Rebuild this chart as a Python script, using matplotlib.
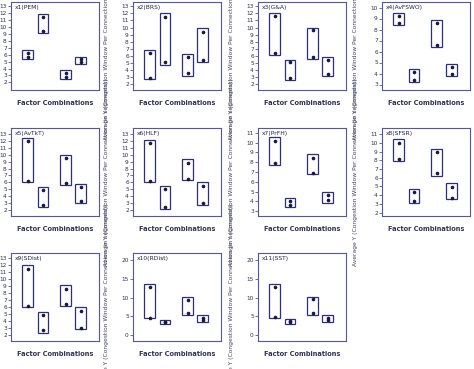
import matplotlib
matplotlib.use("Agg")
import matplotlib.pyplot as plt
from matplotlib.patches import Rectangle

# panel names
paneles = ["x1(PEM)", "x2(BRS)", "x3(G&A)", "x4(AvFSWO)",
           "x5(AvTkT)", "x6(HLF)", "x7(PrFH)", "x8(SFSR)",
           "x9(SDist)", "x10(RDist)", "x11(SST)"]

# box ranges, 4 factor combinations per panel
caja_baja = [[5.4, 9.1, 2.5, 4.6], [2.7, 4.7, 3.2, 5.1], [6.1, 2.6, 5.6, 3.2],
             [8.4, 3.2, 6.4, 3.8], [6.0, 2.5, 5.6, 3.1], [6.0, 2.2, 6.3, 2.8],
             [7.7, 3.4, 6.8, 3.8], [7.9, 3.1, 6.2, 3.5], [6.0, 2.3, 6.2, 2.9],
             [4.5, 3.1, 5.4, 3.6], [4.5, 3.1, 5.4, 3.6]]
caja_alta = [[6.7, 11.8, 3.8, 5.6], [6.8, 12.0, 6.3, 9.9], [12.1, 5.4, 10.0, 5.8],
             [9.5, 4.4, 8.9, 4.9], [12.4, 5.3, 10.0, 5.8], [12.1, 5.5, 9.3, 6.0],
             [10.6, 4.3, 8.8, 5.0], [10.4, 4.7, 9.3, 5.4], [12.0, 5.3, 9.2, 6.0],
             [13.6, 4.1, 10.2, 5.4], [13.6, 4.3, 10.2, 5.4]]
# means (upper and lower point inside each box)
punto_alto = [[6.2, 11.4, 3.4, 5.4], [6.4, 11.5, 5.8, 9.4], [11.6, 5.1, 9.6, 5.4],
              [9.2, 4.1, 8.6, 4.6], [11.9, 4.9, 9.5, 5.3], [11.7, 5.0, 8.8, 5.5],
              [10.2, 4.0, 8.4, 4.6], [10.0, 4.3, 9.0, 4.9], [11.4, 4.9, 8.6, 5.4],
              [12.8, 3.6, 9.3, 4.7], [12.9, 3.8, 9.6, 4.7]]
punto_bajo = [[5.7, 9.4, 2.8, 5.0], [2.9, 5.1, 3.6, 5.4], [6.4, 2.9, 5.8, 3.5],
              [8.6, 3.4, 6.6, 4.0], [6.2, 2.8, 5.9, 3.4], [6.2, 2.5, 6.5, 3.1],
              [7.9, 3.6, 6.9, 4.1], [8.1, 3.3, 6.5, 3.7], [6.2, 2.7, 6.5, 3.1],
              [4.7, 3.6, 5.8, 4.0], [4.9, 3.6, 5.8, 4.0]]
rango_y = [(0.9, 13.6), (1.2, 13.6), (1.2, 13.6), (2.5, 10.5),
           (1.2, 13.8), (1.2, 13.8), (2.5, 11.5), (1.6, 11.7),
           (1.2, 13.7), (-1.5, 21.8), (-1.5, 21.8)]
ticks_y = [range(2, 14), range(2, 14), range(2, 14), range(3, 11),
           range(2, 14), range(2, 14), range(3, 12), range(2, 12),
           range(2, 14), range(0, 21, 5), range(0, 21, 5)]

posiciones = [1.9, 3.65, 6.2, 7.9]
ancho = 1.2
marco = "#5656a0"
azul = "#2e2e80"

fig = plt.figure(figsize=(4.74, 3.69), dpi=100)
W, H = 474, 369
izq = [11, 133, 258, 382]
arriba = [2, 128, 253]
aw, ah = 88, 88

for i, nombre in enumerate(paneles):
    fila, col = divmod(i, 4)
    ax = fig.add_axes([izq[col] / W, 1 - (arriba[fila] + ah) / H, aw / W, ah / H])
    for p, lo, hi, a, b in zip(posiciones, caja_baja[i], caja_alta[i], punto_alto[i], punto_bajo[i]):
        ax.add_patch(Rectangle((p - ancho / 2, lo), ancho, hi - lo, fill=False,
                               edgecolor=azul, linewidth=0.9))
        ax.plot([p, p], [a, b], linestyle="none", marker="o", markersize=1.6,
                color="#1a1a40")
    ax.set_xlim(0, 10)
    ax.set_ylim(*rango_y[i])
    ax.set_xticks([])
    ax.set_yticks(list(ticks_y[i]))
    ax.tick_params(axis="y", labelsize=4.2, length=2, width=0.6, pad=1,
                   colors=marco, labelcolor="#333355")
    for s in ax.spines.values():
        s.set_color(marco)
        s.set_linewidth(0.8)
    ax.text(0.04, 0.97, nombre, transform=ax.transAxes, fontsize=4.3,
            va="top", ha="left", color="#222244")
    ax.set_xlabel("Factor Combinations", fontsize=4.8, fontweight="bold",
                  color="#333355", labelpad=7)
    ax.set_ylabel("Average Y (Congestion Window Per Connection (in segments))",
                  fontsize=4.3, color="#444466")
    ax.yaxis.set_label_coords(-0.27, 0.5)

fig.savefig("out.png", dpi=100)
